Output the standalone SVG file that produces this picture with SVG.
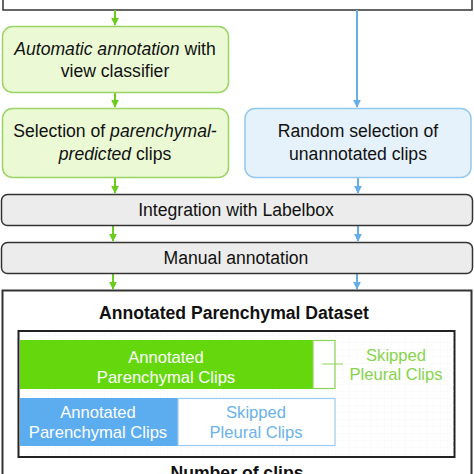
<svg xmlns="http://www.w3.org/2000/svg" width="474" height="474" viewBox="0 0 474 474">
<defs>
<style>
text{font-family:"Liberation Sans",Arial,sans-serif;font-size:17.6px;text-anchor:middle;fill:#111}
.it{font-style:italic}
.w{fill:#fff;font-size:16.6px}
.g{fill:#86d44a;font-size:16.6px}
.b{fill:#6ab2ea;font-size:16.6px}
.gbox{fill:#ebfad5;stroke:#9ad466;stroke-width:1.5}
.bbox{fill:#e5f2fb;stroke:#94c8ee;stroke-width:1.5}
.grey{fill:#ececec;stroke:#333;stroke-width:1.5}
.ga{stroke:#6ccc1e;stroke-width:2;fill:none;marker-end:url(#mg)}
.ba{stroke:#65aee8;stroke-width:2;fill:none;marker-end:url(#mb)}
</style>
<marker id="mg" viewBox="0 0 10 10" refX="9" refY="5" markerWidth="4" markerHeight="4" orient="auto"><path d="M0,0 L10,5 L0,10 z" fill="#6ccc1e"/></marker>
<marker id="mb" viewBox="0 0 10 10" refX="9" refY="5" markerWidth="4" markerHeight="4" orient="auto"><path d="M0,0 L10,5 L0,10 z" fill="#65aee8"/></marker>
<pattern id="grid" width="7" height="7" patternUnits="userSpaceOnUse"><path d="M7,0 V7 M0,7 H7" stroke="#f1f1f1" stroke-width="0.6" fill="none"/></pattern>
</defs>
<rect width="474" height="474" fill="#fff"/>
<g id="top"><rect x="3" y="-20" width="469" height="30" fill="#fff" stroke="#333" stroke-width="1.5"/></g>
<g id="connectors">
<line class="ga" x1="115" y1="10" x2="115" y2="25"/>
<line class="ba" x1="357" y1="10" x2="357" y2="107"/>
<line class="ga" x1="115" y1="93" x2="115" y2="107"/>
<line class="ga" x1="115" y1="178" x2="115" y2="193"/>
<line class="ba" x1="358" y1="178" x2="358" y2="193"/>
<line class="ga" x1="113" y1="226" x2="113" y2="241"/>
<line class="ba" x1="358" y1="226" x2="358" y2="241"/>
<line class="ga" x1="113" y1="274" x2="113" y2="289"/>
<line class="ba" x1="357" y1="274" x2="357" y2="289"/>
</g>
<g id="auto"><rect class="gbox" x="2.5" y="26.5" width="226" height="66" rx="10"/>
<text x="115" y="55"><tspan class="it">Automatic annotation</tspan> with</text>
<text x="115" y="77">view classifier</text></g>
<g id="selpar"><rect class="gbox" x="2.5" y="108.5" width="226" height="69" rx="10"/>
<text x="115" y="137">Selection of <tspan class="it">parenchymal-</tspan></text>
<text x="115" y="160"><tspan class="it">predicted</tspan> clips</text></g>
<g id="random"><rect class="bbox" x="245" y="108.5" width="226" height="69" rx="10"/>
<text x="358" y="137">Random selection of</text>
<text x="358" y="160">unannotated clips</text></g>
<g id="labelbox"><rect class="grey" x="1.5" y="194.5" width="471" height="31" rx="6"/>
<text x="236" y="216">Integration with Labelbox</text></g>
<g id="manual"><rect class="grey" x="1.5" y="242.5" width="471" height="31" rx="6"/>
<text x="236" y="264">Manual annotation</text></g>
<g id="dataset"><rect x="2.5" y="290.5" width="469" height="200" fill="#fff" stroke="#333" stroke-width="2"/>
<text x="234" y="319" style="font-weight:bold">Annotated Parenchymal Dataset</text>
<rect x="18.5" y="331" width="436" height="126" fill="#fff" stroke="#222" stroke-width="2"/>
<rect x="20" y="332" width="434" height="124" fill="url(#grid)"/>
<rect x="20" y="340" width="293" height="49" fill="#64d80c"/>
<rect x="313" y="340.5" width="22" height="48" fill="#fff" stroke="#8cd456" stroke-width="1.2"/>
<line x1="322" y1="364" x2="343" y2="364" stroke="#8cd456" stroke-width="1"/>
<text class="w" x="166" y="363">Annotated</text>
<text class="w" x="166" y="383">Parenchymal Clips</text>
<text class="g" x="396" y="361">Skipped</text>
<text class="g" x="396" y="380">Pleural Clips</text>
<rect x="20" y="398" width="158" height="48" fill="#5cacf0"/>
<rect x="178" y="398.5" width="157" height="47" fill="#fff" stroke="#9ccbf0" stroke-width="1.2"/>
<text class="w" x="98" y="418">Annotated</text>
<text class="w" x="98" y="438">Parenchymal Clips</text>
<text class="b" x="256" y="418">Skipped</text>
<text class="b" x="256" y="438">Pleural Clips</text>
<text x="237" y="479" style="font-weight:bold">Number of clips</text></g>
</svg>
